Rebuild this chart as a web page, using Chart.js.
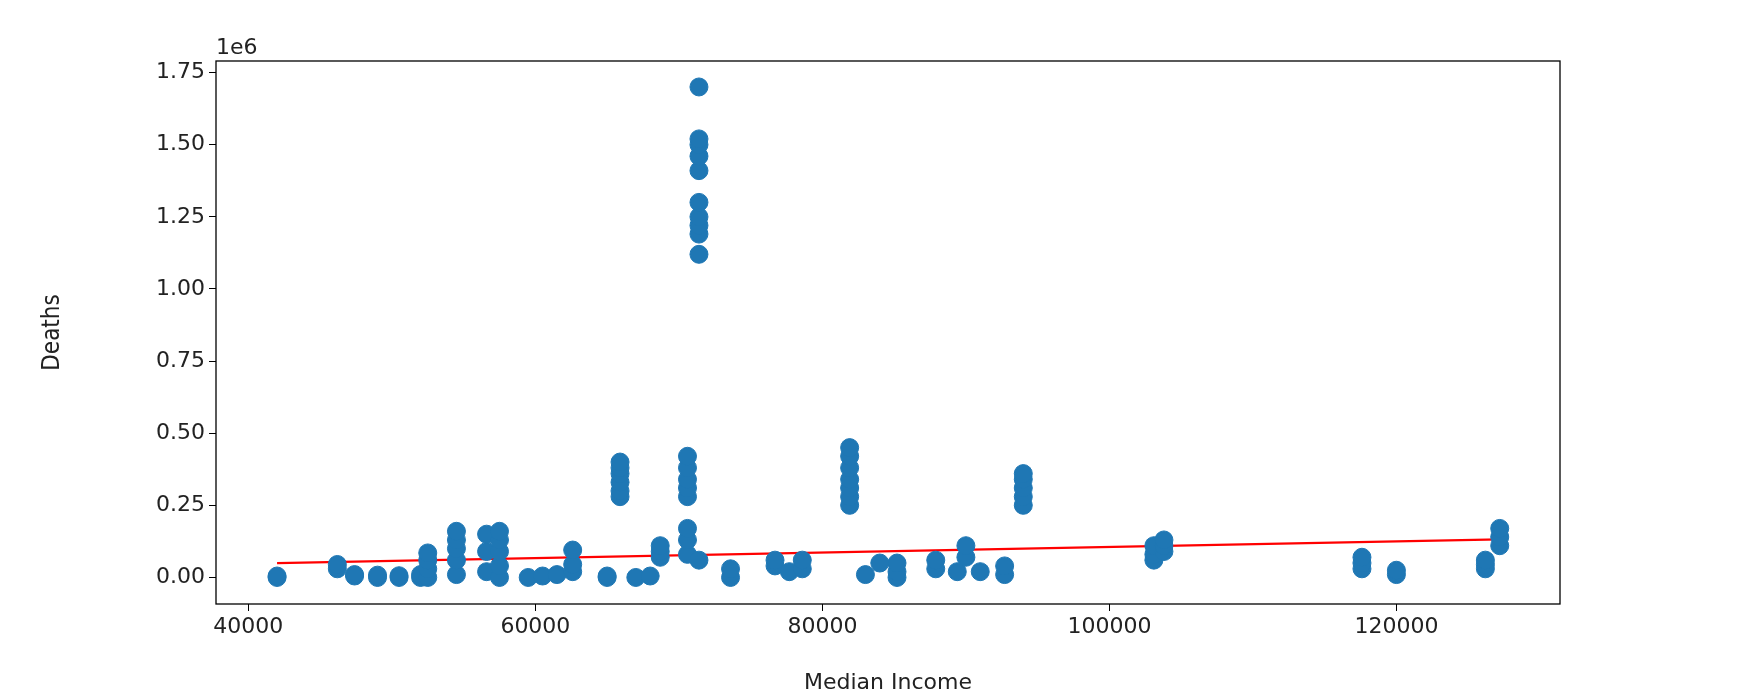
<!DOCTYPE html>
<html>
<head>
<meta charset="utf-8">
<script src="https://cdn.jsdelivr.net/npm/chart.js@4"></script>
<style>
html,body{margin:0;padding:0;background:#fff;}
#wrap{width:1737px;height:700px;}
</style>
</head>
<body>
<div id="wrap"><canvas id="scatter"></canvas></div>
<script>
// median income of each state row, and deaths for that row
const incomes = [
 42000,42000,46200,46200,47400,47400,49000,49000,50500,50500,52000,52000,
 52500,52500,52500,52500,54500,54500,54500,54500,54500,56600,56600,56600,
 57500,57500,57500,57500,57500,59500,60500,61500,62600,62600,62600,
 65000,65000,65900,65900,65900,65900,65900,65900,67000,68000,68700,68700,68700,
 70600,70600,70600,70600,70600,70600,70600,70600,
 71400,71400,71400,71400,71400,71400,71400,71400,71400,71400,71400,
 73600,73600,76700,76700,77700,78600,78600,
 81900,81900,81900,81900,81900,81900,81900,83000,84000,85200,85200,85200,87900,87900,
 89400,90000,90000,91000,92700,92700,94000,94000,94000,94000,94000,
 103100,103100,103100,103800,103800,103800,117600,117600,117600,120000,120000,
 126200,126200,126200,127200,127200,127200
];
const deaths = [
 0,5000,30000,45000,5000,10000,0,8000,0,6000,0,10000,
 0,30000,60000,85000,10000,60000,100000,130000,160000,20000,90000,150000,
 0,40000,90000,130000,160000,0,5000,10000,20000,45000,95000,
 0,5000,280000,300000,330000,360000,380000,400000,0,5000,70000,90000,110000,
 80000,130000,170000,280000,310000,340000,380000,420000,
 1120000,1190000,1220000,1250000,1300000,1410000,1460000,1500000,1520000,1700000,60000,
 0,30000,40000,60000,20000,30000,60000,
 250000,280000,310000,340000,380000,420000,450000,10000,50000,0,20000,50000,30000,60000,
 20000,70000,110000,20000,10000,40000,250000,280000,310000,340000,360000,
 60000,80000,110000,90000,110000,130000,30000,50000,70000,10000,25000,
 30000,45000,60000,110000,140000,170000
];
// fitted trend line end points
const fitIncome = [42000, 127200];
const fitDeaths = [50000, 132000];
const yTicks = [0,250000,500000,750000,1000000,1250000,1500000,1750000];
const xTicks = [40000,60000,80000,100000,120000];

const pts = incomes.map((v,i)=>({x:v,y:deaths[i]}));
const fit = fitIncome.map((v,i)=>({x:v,y:fitDeaths[i]}));

const frame = {
  id:'frame',
  afterDraw(c){
    const a=c.chartArea, g=c.ctx;
    g.save();
    g.strokeStyle='#000';g.lineWidth=1.3;
    g.strokeRect(a.left,a.top,a.right-a.left,a.bottom-a.top);
    g.fillStyle='#222';g.font='22px "DejaVu Sans"';g.textBaseline='bottom';
    g.fillText('1e6',a.left,a.top-2);
    g.restore();
  }
};

new Chart(document.querySelector('#scatter').getContext('2d'),{
  type:'scatter',
  data:{datasets:[
    {data:pts,backgroundColor:'#1f77b4',borderColor:'#1f77b4',pointRadius:9,pointHoverRadius:9},
    {type:'line',data:fit,borderColor:'#ff0000',borderWidth:2.2,pointRadius:0,fill:false}
  ]},
  options:{
    responsive:true,maintainAspectRatio:false,animation:false,
    layout:{padding:{left:0,right:177,top:61,bottom:0}},
    plugins:{legend:{display:false},tooltip:{enabled:false}},
    scales:{
      x:{type:'linear',min:37745,max:131400,
        afterBuildTicks(s){s.ticks=xTicks.map(v=>({value:v}));},
        afterFit(s){s.height=96;},
        grid:{drawOnChartArea:false,color:'#000',tickLength:7},
        border:{display:false},
        ticks:{color:'#222',font:{family:'DejaVu Sans',size:22},padding:3,maxRotation:0,callback:v=>String(v)},
        title:{display:true,text:'Median Income',color:'#222',font:{family:'DejaVu Sans',size:22},padding:{top:0}}
      },
      y:{min:-92000,max:1790000,
        afterBuildTicks(s){s.ticks=yTicks.map(v=>({value:v}));},
        afterFit(s){s.width=216;},
        grid:{drawOnChartArea:false,color:'#000',tickLength:7},
        border:{display:false},
        ticks:{color:'#222',font:{family:'DejaVu Sans',size:22},padding:4,callback:v=>(v/1e6).toFixed(2)},
        title:{display:true,text:'Deaths',color:'#222',font:{family:'Liberation Sans Narrow, DejaVu Sans Condensed',size:24},padding:{bottom:0,top:38}}
      }
    }
  },
  plugins:[frame]
});
</script>
</body>
</html>
